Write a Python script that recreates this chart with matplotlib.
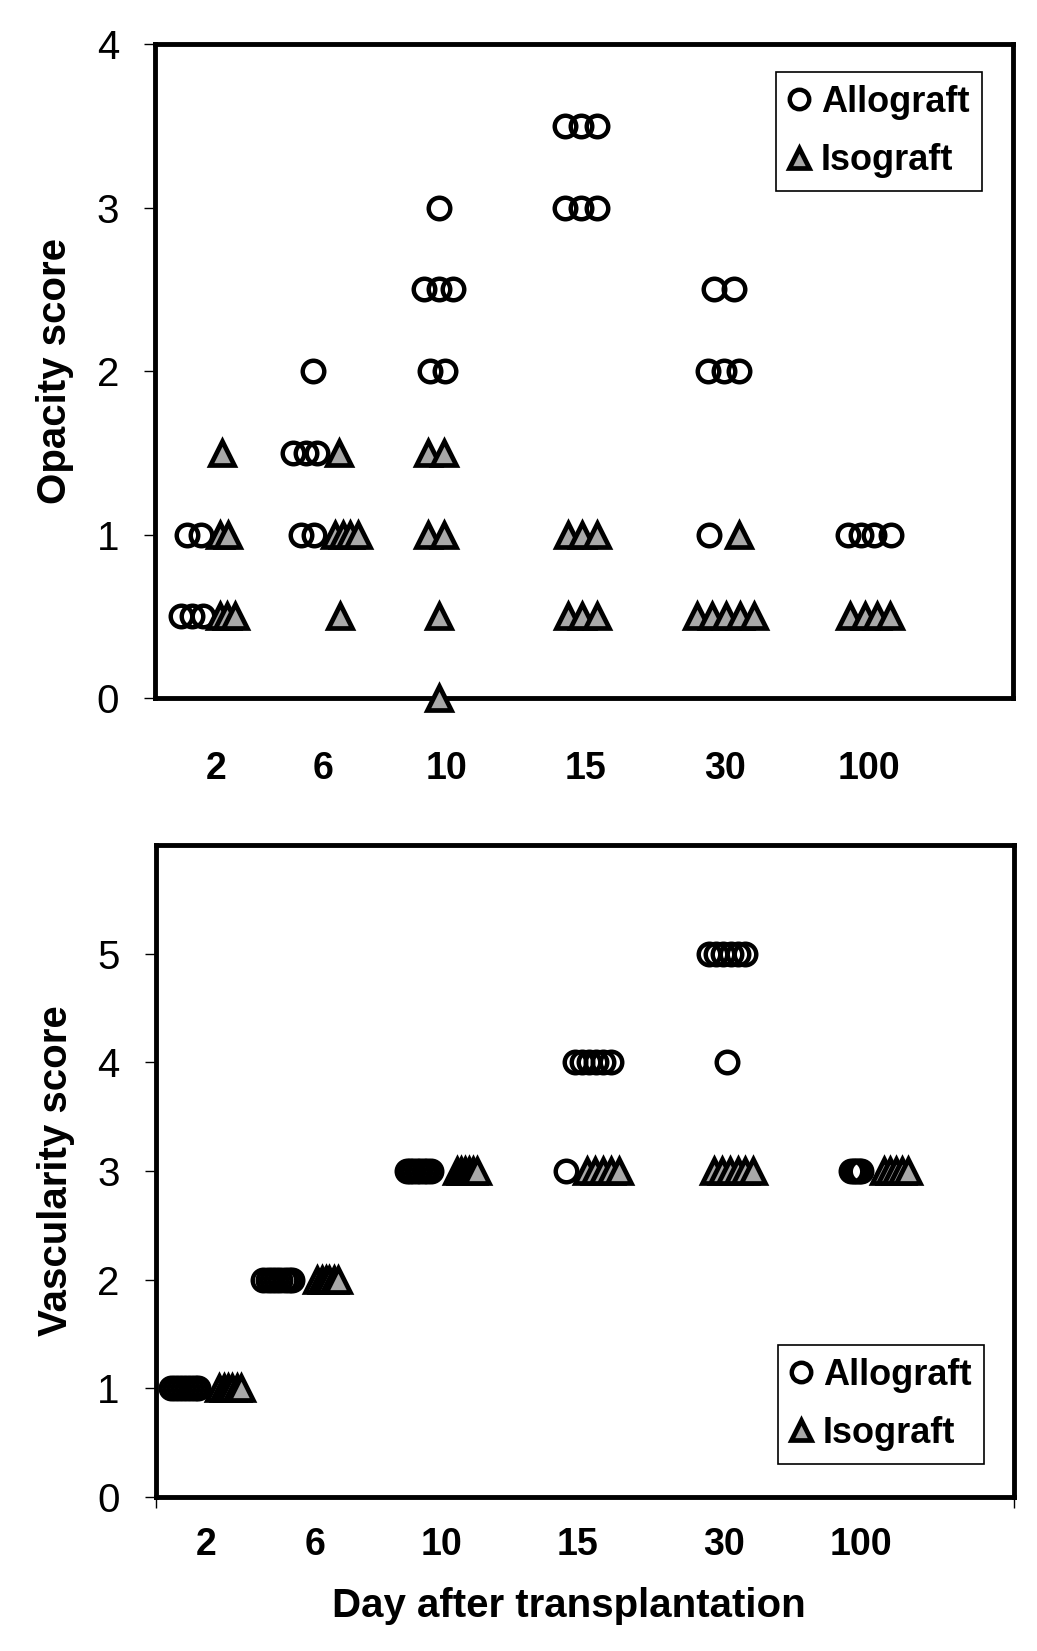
import matplotlib
matplotlib.use("Agg")
import matplotlib.pyplot as plt

plt.rcParams["font.family"] = ["Liberation Sans", "DejaVu Sans"]

days = ["2", "6", "10", "15", "30", "100"]
# where the day labels sit along the (unitless) x axis, 0..10
opacity_day_pos = [0.71, 1.96, 3.40, 5.02, 6.64, 8.32]
vasc_day_pos = [0.59, 1.86, 3.33, 4.91, 6.62, 8.22]

# ---- opacity score (top panel) ----
opac_allo_x = [0.30, 0.43, 0.56, 0.37, 0.53,
               1.84, 1.61, 1.76, 1.89, 1.70, 1.85,
               3.31, 3.14, 3.31, 3.47, 3.20, 3.38,
               4.78, 4.96, 5.15, 4.78, 4.96, 5.15,
               6.52, 6.75, 6.45, 6.63, 6.81, 6.46,
               8.08, 8.23, 8.38, 8.58]
opac_allo_y = [0.5, 0.5, 0.5, 1, 1,
               2, 1.5, 1.5, 1.5, 1, 1,
               3, 2.5, 2.5, 2.5, 2, 2,
               3.5, 3.5, 3.5, 3, 3, 3,
               2.5, 2.5, 2, 2, 2, 1,
               1, 1, 1, 1]
opac_iso_x = [0.78, 0.76, 0.85, 0.76, 0.84, 0.93,
              2.14, 2.10, 2.19, 2.27, 2.36, 2.16,
              3.18, 3.37, 3.18, 3.37, 3.31, 3.31,
              4.81, 4.98, 5.15, 4.81, 4.98, 5.15,
              6.81, 6.32, 6.49, 6.65, 6.82, 6.98,
              8.10, 8.28, 8.41, 8.57]
opac_iso_y = [1.5, 1, 1, 0.5, 0.5, 0.5,
              1.5, 1, 1, 1, 1, 0.5,
              1.5, 1.5, 1, 1, 0.5, 0,
              1, 1, 1, 0.5, 0.5, 0.5,
              1, 0.5, 0.5, 0.5, 0.5, 0.5,
              0.5, 0.5, 0.5, 0.5]

# ---- vascularity score (bottom panel) ----
vasc_allo_x = [0.18, 0.22, 0.27, 0.31, 0.36, 0.41, 0.45, 0.49,
               1.25, 1.30, 1.35, 1.40, 1.45, 1.50, 1.55, 1.59,
               2.92, 2.96, 3.00, 3.04, 3.08, 3.12, 3.16, 3.20,
               4.88, 4.96, 5.05, 5.13, 5.21, 5.30, 4.78,
               6.44, 6.53, 6.61, 6.70, 6.78, 6.87, 6.65,
               8.10, 8.13, 8.16, 8.19, 8.22]
vasc_allo_y = [1, 1, 1, 1, 1, 1, 1, 1,
               2, 2, 2, 2, 2, 2, 2, 2,
               3, 3, 3, 3, 3, 3, 3, 3,
               4, 4, 4, 4, 4, 4, 3,
               5, 5, 5, 5, 5, 5, 4,
               3, 3, 3, 3, 3]
vasc_iso_x = [0.74, 0.79, 0.84, 0.89, 0.94, 0.99,
              1.88, 1.93, 1.98, 2.02, 2.07, 2.12,
              3.51, 3.56, 3.60, 3.65, 3.69, 3.74,
              5.02, 5.12, 5.21, 5.30, 5.40,
              6.50, 6.60, 6.69, 6.78, 6.87, 6.96,
              8.48, 8.55, 8.62, 8.69, 8.76]
vasc_iso_y = [1, 1, 1, 1, 1, 1,
              2, 2, 2, 2, 2, 2,
              3, 3, 3, 3, 3, 3,
              3, 3, 3, 3, 3,
              3, 3, 3, 3, 3, 3,
              3, 3, 3, 3, 3]

circ = dict(marker="o", linestyle="none", markersize=15.5, markeredgewidth=3.2,
            markerfacecolor="none", markeredgecolor="black", clip_on=False, zorder=3)
tri = dict(marker="^", linestyle="none", markersize=17, markeredgewidth=3.4,
           markerfacecolor="#a8a8a8", markeredgecolor="black", clip_on=False, zorder=4)

fig = plt.figure(figsize=(10.37, 16.51), dpi=100)
ax1 = fig.add_axes([0.1495, 0.5772, 0.8274, 0.3961])
ax2 = fig.add_axes([0.1504, 0.0933, 0.8274, 0.3950])


def style(ax, ymax, yticks, ylabel):
    for s in ax.spines.values():
        s.set_linewidth(3.5)
        s.set_zorder(2)
    ax.set_xlim(0, 10)
    ax.set_ylim(0, ymax)
    ax.set_yticks(yticks)
    ax.tick_params(axis="y", direction="out", length=8, width=1, pad=18, labelsize=29)
    ax.set_ylabel(ylabel, fontsize=29, fontweight="bold", labelpad=16)


style(ax1, 4, range(0, 5), "Opacity score")
ax1.set_xticks([])
ax1.plot(opac_allo_x, opac_allo_y, label="Allograft", **circ)
ax1.plot(opac_iso_x, opac_iso_y, label="Isograft", **tri)
for pos, d in zip(opacity_day_pos, days):
    ax1.text(pos, -0.109, d, transform=ax1.get_xaxis_transform(), ha="center",
             va="center", fontsize=27, fontweight="bold")

style(ax2, 6, range(0, 6), "Vascularity score")
ax2.set_xticks([0, 10])
ax2.set_xticklabels([])
ax2.tick_params(axis="x", direction="out", length=8, width=1)
ax2.plot(vasc_allo_x, vasc_allo_y, label="Allograft", **circ)
ax2.plot(vasc_iso_x, vasc_iso_y, label="Isograft", **tri)
for pos, d in zip(vasc_day_pos, days):
    ax2.text(pos, -0.074, d, transform=ax2.get_xaxis_transform(), ha="center",
             va="center", fontsize=27, fontweight="bold")
ax2.set_xlabel("Day after transplantation", fontsize=29, fontweight="bold")
ax2.xaxis.set_label_coords(0.481, -0.138)

leg_kw = dict(prop={"size": 26, "weight": "bold"}, frameon=True, fancybox=False,
              edgecolor="black", framealpha=1, handlelength=0.6, handletextpad=0.3,
              labelspacing=0.65, borderpad=0.35, borderaxespad=0)
l1 = ax1.legend(loc="upper right", bbox_to_anchor=(0.964, 0.957), **leg_kw)
l2 = ax2.legend(loc="lower right", bbox_to_anchor=(0.965, 0.051), **leg_kw)
for lg in (l1, l2):
    lg.get_frame().set_linewidth(1.2)
    for h in lg.legend_handles:
        h.set_markersize(14)

fig.savefig("out.png", dpi=100)
